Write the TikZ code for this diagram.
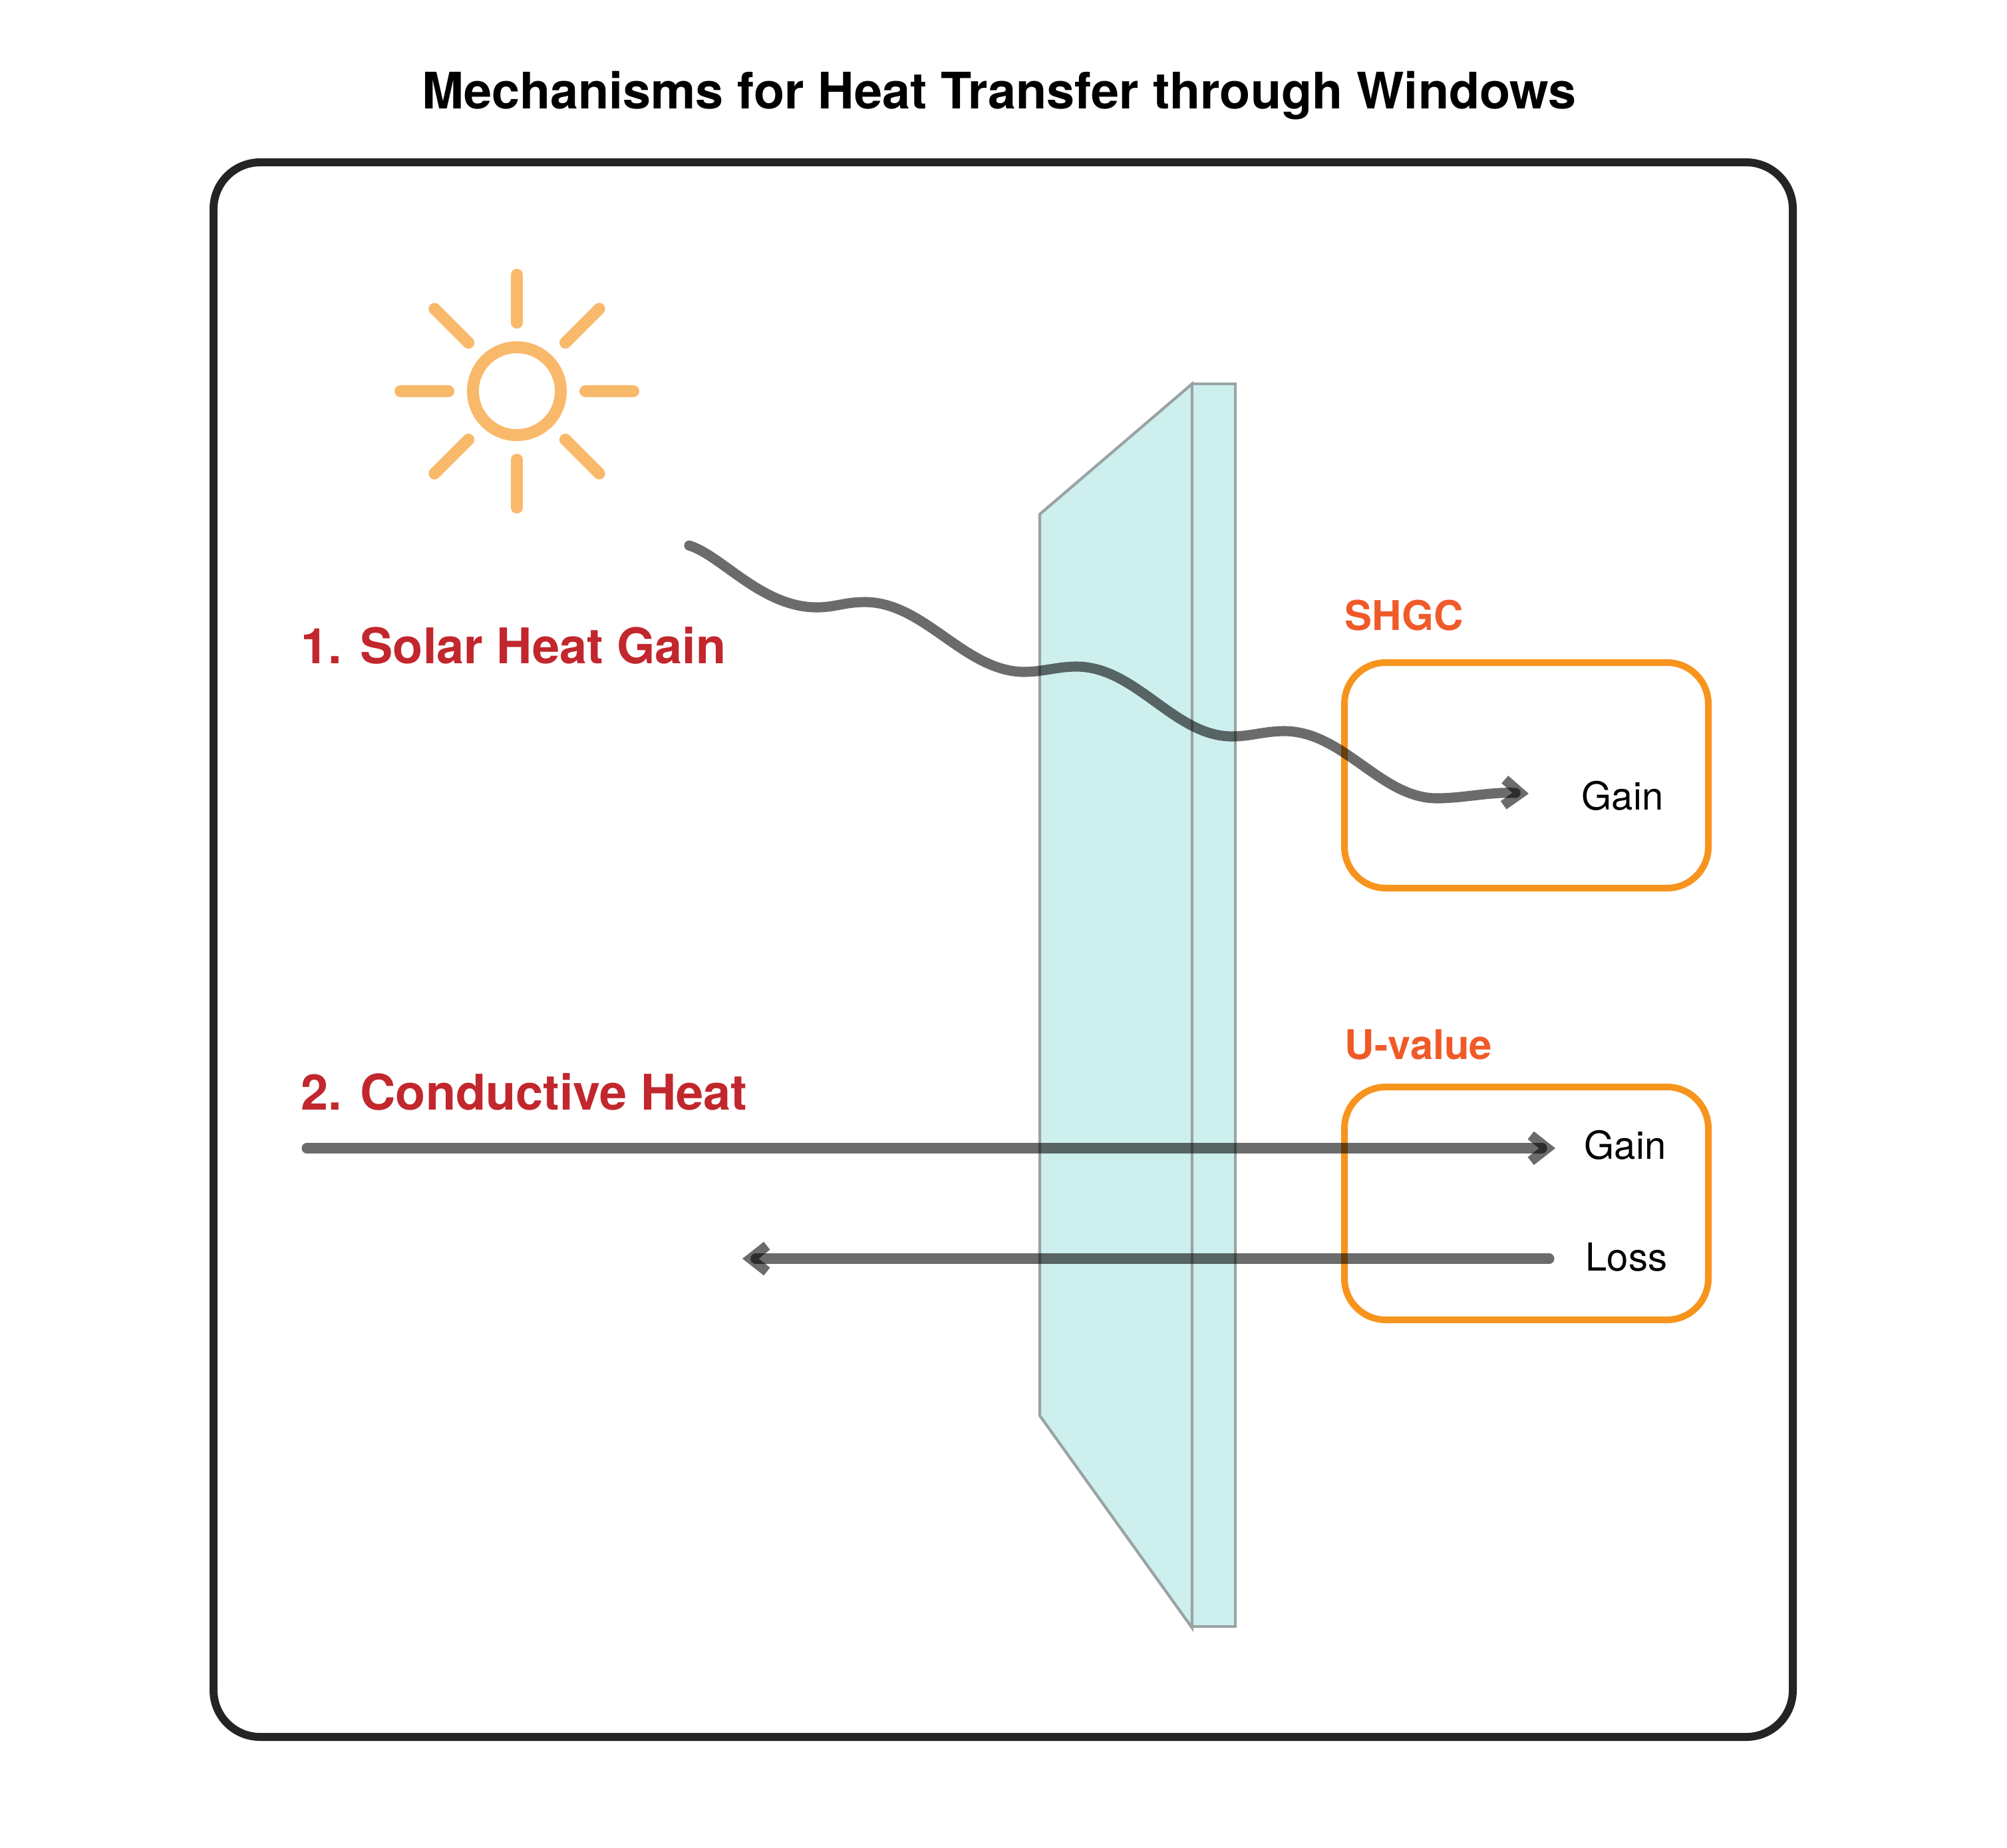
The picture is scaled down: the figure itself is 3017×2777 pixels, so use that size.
\documentclass[tikz,border=0pt]{standalone}
\usepackage{fontspec}
\setmainfont{TeX Gyre Heros}
\usetikzlibrary{arrows.meta}
\definecolor{sunorange}{HTML}{F9B96A}
\definecolor{boxorange}{HTML}{F7941D}
\definecolor{labelorange}{HTML}{F05A28}
\definecolor{labelred}{HTML}{C1272D}
\definecolor{glassfill}{HTML}{CDEFEE}
\definecolor{glassedge}{HTML}{9AA3A3}
\definecolor{heatgray}{HTML}{6B6B6B}
\definecolor{framegray}{HTML}{242424}
\begin{document}
\begin{tikzpicture}[x=0.01cm,y=-0.01cm,
	heat/.style={draw=heatgray,line width=4.3pt,line cap=round,blend mode=multiply,-{Straight Barb[length=7pt,width=11pt]}},
	factorbox/.style={draw=boxorange,line width=2.85pt,rounded corners=0.62cm},
	sunline/.style={draw=sunorange,line width=5.1pt,line cap=round},
	glass/.style={fill=glassfill,draw=glassedge,line width=1.2pt},
	mech/.style={anchor=base west,inner sep=0pt,text=labelred,font=\bfseries\fontsize{21}{25}\selectfont},
	factor/.style={anchor=base west,inner sep=0pt,text=labelorange,font=\bfseries\fontsize{17.5}{21}\selectfont},
	flow/.style={anchor=base west,inner sep=0pt,font=\fontsize{16.5}{20}\selectfont}]
	\useasboundingbox (0,0) rectangle (3017,2777);
	\node[anchor=base,inner sep=0pt,font=\bfseries\fontsize{21.5}{26}\selectfont] (title) at (1502,163) {Mechanisms for Heat Transfer through Windows};
	\draw[draw=framegray,line width=3.4pt,rounded corners=0.7cm] (321,244) rectangle (2695,2611);
	% sun
	\coordinate (sun) at (777,588);
	\draw[sunline] (sun) circle [radius=0.66cm];
	\foreach \a in {0,45,...,315}
		\draw[sunline] ([shift={(\a:103)}]sun) -- ([shift={(\a:175)}]sun);
	% window pane
	\draw[glass] (1563,773) -- (1792,577) -- (1792,2447) -- (1563,2128) -- cycle;
	\draw[glass] (1792,577) rectangle (1857,2445);
	% labels
	\node[mech] (solar) at (452,997) {1. Solar Heat Gain};
	\node[mech] (cond) at (452,1668) {2. Conductive Heat};
	\node[factor] (shgc) at (2021,947) {SHGC};
	\node[factor] (uval) at (2021,1592) {U-value};
	\draw[factorbox] (2021,996) rectangle (2568,1335);
	\draw[factorbox] (2021,1634) rectangle (2568,1984);
	\node[flow] (sgain) at (2377,1217) {Gain};
	\node[flow] (ugain) at (2381,1742) {Gain};
	\node[flow] (uloss) at (2383,1910) {Loss};
	% heat flows
	\coordinate (raystart) at (1036,820);
	\coordinate (raytip) at (2298,1193);
	\coordinate (condstart) at (461,1726);
	\coordinate (condtip) at (2338,1726);
	\coordinate (lossstart) at (2329,1892);
	\coordinate (losstip) at (1116,1892);
	\draw[heat] (raystart) .. controls (1085,835) and (1145,913) .. (1228,913)
		.. controls (1255,913) and (1270,905) .. (1300,905)
		.. controls (1390,905) and (1450,1010) .. (1540,1010)
		.. controls (1567,1010) and (1590,1002) .. (1618,1002)
		.. controls (1708,1002) and (1765,1107) .. (1852,1107)
		.. controls (1879,1107) and (1902,1099) .. (1930,1099)
		.. controls (2020,1099) and (2075,1200) .. (2160,1200)
		.. controls (2200,1200) and (2240,1190) .. (raytip);
	\draw[heat] (condstart) -- (condtip);
	\draw[heat] (lossstart) -- (losstip);
\end{tikzpicture}
\end{document}
